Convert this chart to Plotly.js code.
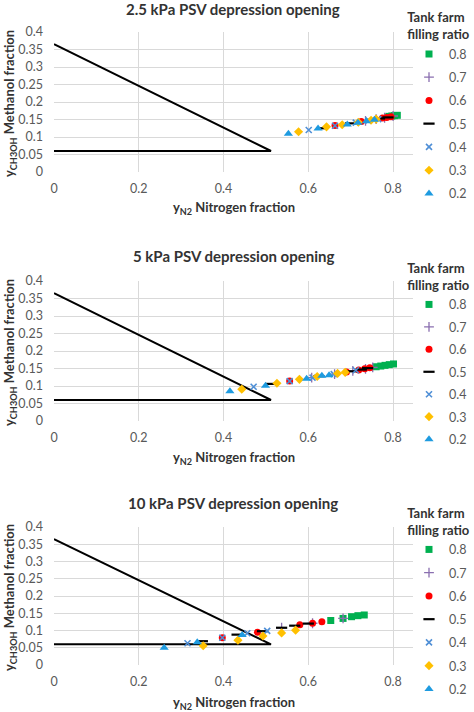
<!DOCTYPE html>
<html>
<head>
<meta charset="utf-8">
<script src="https://cdn.plot.ly/plotly-3.0.1.min.js"></script>
<style>
  html, body { margin: 0; padding: 0; background: #ffffff; }
  #chart { width: 474px; height: 712px; }
</style>
</head>
<body>
<div id="chart"></div>
<script>
// ---- Data: y_N2 (x) and y_CH3OH (y) per tank farm filling ratio ----
const ratioNames = ['0.8', '0.7', '0.6', '0.5', '0.4', '0.3', '0.2'];
const panelTitles = ['2.5 kPa PSV depression opening', '5 kPa PSV depression opening', '10 kPa PSV depression opening'];

// Flammability boundary lines (same in every panel)
const boundaryX = [0, 0.512, 0];
const boundaryY = [0.365, 0.06, 0.06];

// Axis ticks
const xTickVals = [0, 0.2, 0.4, 0.6, 0.8];
const xTickText = ['0', '0.2', '0.4', '0.6', '0.8'];
const yTickVals = [0, 0.05, 0.1, 0.15, 0.2, 0.25, 0.3, 0.35, 0.4];
const yTickText = ['0', '0.05', '0.1', '0.15', '0.2', '0.25', '0.3', '0.35', '0.4'];

// 2.5 kPa
const p1_r08_x = [0.790, 0.797, 0.803, 0.810];
const p1_r08_y = [0.159, 0.160, 0.161, 0.162];
const p1_r07_x = [0.735, 0.760, 0.780, 0.800];
const p1_r07_y = [0.146, 0.151, 0.155, 0.160];
const p1_r06_x = [0.663, 0.725, 0.775, 0.785, 0.795];
const p1_r06_y = [0.133, 0.144, 0.154, 0.156, 0.158];
const p1_r05_x = [0.632, 0.700, 0.750, 0.768, 0.788];
const p1_r05_y = [0.125, 0.139, 0.149, 0.153, 0.156];
const p1_r04_x = [0.601, 0.663, 0.712, 0.742, 0.765];
const p1_r04_y = [0.120, 0.132, 0.141, 0.147, 0.151];
const p1_r03_x = [0.577, 0.643, 0.680, 0.718, 0.748, 0.760];
const p1_r03_y = [0.115, 0.129, 0.135, 0.142, 0.148, 0.151];
const p1_r02_x = [0.553, 0.623, 0.692, 0.717, 0.737, 0.756];
const p1_r02_y = [0.109, 0.124, 0.136, 0.141, 0.145, 0.149];

// 5 kPa
const p2_r08_x = [0.760, 0.771, 0.781, 0.791, 0.801];
const p2_r08_y = [0.155, 0.157, 0.159, 0.161, 0.163];
const p2_r07_x = [0.608, 0.662, 0.705, 0.735, 0.752];
const p2_r07_y = [0.124, 0.134, 0.143, 0.149, 0.153];
const p2_r06_x = [0.556, 0.690, 0.719, 0.733, 0.745];
const p2_r06_y = [0.114, 0.140, 0.146, 0.149, 0.152];
const p2_r05_x = [0.513, 0.625, 0.700, 0.725, 0.740];
const p2_r05_y = [0.106, 0.128, 0.142, 0.147, 0.151];
const p2_r04_x = [0.471, 0.556, 0.610, 0.660, 0.712];
const p2_r04_y = [0.098, 0.114, 0.124, 0.134, 0.145];
const p2_r03_x = [0.443, 0.526, 0.579, 0.621, 0.669, 0.687];
const p2_r03_y = [0.091, 0.108, 0.119, 0.127, 0.136, 0.139];
const p2_r02_x = [0.415, 0.499, 0.596, 0.632, 0.649];
const p2_r02_y = [0.085, 0.101, 0.121, 0.129, 0.131];

// 10 kPa
const p3_r08_x = [0.653, 0.682, 0.702, 0.717, 0.732];
const p3_r08_y = [0.129, 0.135, 0.140, 0.143, 0.145];
const p3_r07_x = [0.537, 0.610, 0.682];
const p3_r07_y = [0.108, 0.121, 0.135];
const p3_r06_x = [0.397, 0.480, 0.580, 0.610, 0.632];
const p3_r06_y = [0.079, 0.095, 0.117, 0.121, 0.125];
const p3_r05_x = [0.350, 0.432, 0.492, 0.537, 0.568, 0.600];
const p3_r05_y = [0.069, 0.088, 0.098, 0.108, 0.114, 0.120];
const p3_r04_x = [0.315, 0.397, 0.456, 0.503];
const p3_r04_y = [0.063, 0.079, 0.092, 0.099];
const p3_r03_x = [0.352, 0.434, 0.493, 0.537, 0.570];
const p3_r03_y = [0.056, 0.072, 0.084, 0.093, 0.101];
const p3_r02_x = [0.260, 0.338, 0.444];
const p3_r02_y = [0.050, 0.066, 0.087];

const panels = [
  [[p1_r08_x, p1_r08_y], [p1_r07_x, p1_r07_y], [p1_r06_x, p1_r06_y], [p1_r05_x, p1_r05_y],
   [p1_r04_x, p1_r04_y], [p1_r03_x, p1_r03_y], [p1_r02_x, p1_r02_y]],
  [[p2_r08_x, p2_r08_y], [p2_r07_x, p2_r07_y], [p2_r06_x, p2_r06_y], [p2_r05_x, p2_r05_y],
   [p2_r04_x, p2_r04_y], [p2_r03_x, p2_r03_y], [p2_r02_x, p2_r02_y]],
  [[p3_r08_x, p3_r08_y], [p3_r07_x, p3_r07_y], [p3_r06_x, p3_r06_y], [p3_r05_x, p3_r05_y],
   [p3_r04_x, p3_r04_y], [p3_r03_x, p3_r03_y], [p3_r02_x, p3_r02_y]]
];

// ---- Styling ----
const W = 474, H = 712;
const FONT = 'Lato, "Open Sans", sans-serif';
const markerStyles = [
  { symbol: 'square', size: 7, color: '#00B050' },
  { symbol: 'cross-thin', size: 7, color: '#8A6FB0', line: { color: '#8A6FB0', width: 1.3 } },
  { symbol: 'circle', size: 7, color: '#FF0000' },
  { symbol: 'line-ew', size: 8, color: '#000000', line: { color: '#000000', width: 2.2 } },
  { symbol: 'x-thin', size: 6, color: '#4F8FD6', line: { color: '#4F8FD6', width: 1.6 } },
  { symbol: 'diamond', size: 7, color: '#FFC000' },
  { symbol: 'triangle-up', size: 8, color: '#1E9BE0' }
];

const py = p => 1 - p / H;   // pixel row -> paper y
const px = p => p / W;       // pixel column -> paper x

// plot-area rows (top, bottom) and legend/title/label rows for each panel
const plotRows = [[32, 172], [281, 421], [527, 665]];
const titleRows = [9, 256, 503];
const xTitleRows = [208, 458, 703];
const legendTops = [5.5, 256, 501];
const legendGaps = [4, 3.2, 4];
const legendLeft = 405;   // legend box must end inside the page, or it pushes the margins
const plotLeft = 54, plotRight = 413;

const traces = [];
panels.forEach((series, pi) => {
  const xa = pi === 0 ? 'x' : 'x' + (pi + 1);
  const ya = pi === 0 ? 'y' : 'y' + (pi + 1);
  const lg = pi === 0 ? 'legend' : 'legend' + (pi + 1);
  traces.push({
    x: boundaryX, y: boundaryY, xaxis: xa, yaxis: ya,
    type: 'scatter', mode: 'lines', line: { color: '#000000', width: 2 },
    showlegend: false, hoverinfo: 'skip'
  });
  series.forEach((s, si) => {
    traces.push({
      x: s[0], y: s[1], xaxis: xa, yaxis: ya,
      type: 'scatter', mode: 'markers', name: ratioNames[si],
      marker: markerStyles[si], legend: lg, legendgroup: 'g' + pi + '_' + si
    });
  });
});

const layout = {
  width: W, height: H, autosize: false,
  margin: { l: 0, r: 0, t: 0, b: 0, pad: 0 },
  paper_bgcolor: '#ffffff', plot_bgcolor: '#ffffff',
  font: { family: FONT, color: '#595959', size: 12.5 },
  showlegend: true,
  annotations: []
};

const legendBase = (top, gap) => ({
  x: px(legendLeft), xanchor: 'left', y: py(top), yanchor: 'top',
  bgcolor: 'rgba(0,0,0,0)', borderwidth: 0,
  traceorder: 'grouped', tracegroupgap: gap, indentation: 4,
  font: { family: FONT, size: 12.5, color: '#595959' },
  title: { text: 'Tank farm<br>filling ratio', side: 'top center',
           font: { family: FONT, size: 13, color: '#333333', weight: 700 } }
});

for (let pi = 0; pi < 3; pi++) {
  const sfx = pi === 0 ? '' : String(pi + 1);
  const [top, bot] = plotRows[pi];
  layout['xaxis' + sfx] = {
    domain: [px(plotLeft), px(plotRight)], anchor: 'y' + sfx, range: [0, 0.847],
    tickmode: 'array', tickvals: xTickVals, ticktext: xTickText,
    showgrid: true, gridcolor: '#D9D9D9', gridwidth: 1, zeroline: false, showline: false,
    ticks: '', ticklabelstandoff: 7, tickfont: { family: FONT, size: 12.5, color: '#595959' },
    fixedrange: true
  };
  layout['yaxis' + sfx] = {
    domain: [py(bot), py(top)], anchor: 'x' + sfx, range: [0, 0.4],
    tickmode: 'array', tickvals: yTickVals, ticktext: yTickText,
    showgrid: true, gridcolor: '#D9D9D9', gridwidth: 1, zeroline: false, showline: false,
    ticks: '', ticklabelstandoff: 10, tickfont: { family: FONT, size: 12.5, color: '#595959' },
    fixedrange: true
  };
  layout[pi === 0 ? 'legend' : 'legend' + (pi + 1)] = legendBase(legendTops[pi], legendGaps[pi]);

  layout.annotations.push({
    text: panelTitles[pi], xref: 'paper', yref: 'paper',
    x: px(233), y: py(titleRows[pi]), xanchor: 'center', yanchor: 'middle', showarrow: false,
    font: { family: FONT, size: 15, color: '#333333', weight: 700 }
  });
  layout.annotations.push({
    text: 'y<sub>N2</sub> Nitrogen fraction', xref: 'paper', yref: 'paper',
    x: px(234), y: py(xTitleRows[pi]), xanchor: 'center', yanchor: 'middle', showarrow: false,
    font: { family: FONT, size: 13, color: '#333333', weight: 700 }
  });
  layout.annotations.push({
    text: 'y<sub>CH3OH</sub> Methanol fraction', xref: 'paper', yref: 'paper', textangle: -90,
    x: px(10), y: py((top + bot) / 2 + 2), xanchor: 'center', yanchor: 'middle', showarrow: false,
    font: { family: FONT, size: 13, color: '#333333', weight: 700 }
  });
}

Plotly.newPlot('chart', traces, layout, { staticPlot: true, displayModeBar: false });
</script>
</body>
</html>
